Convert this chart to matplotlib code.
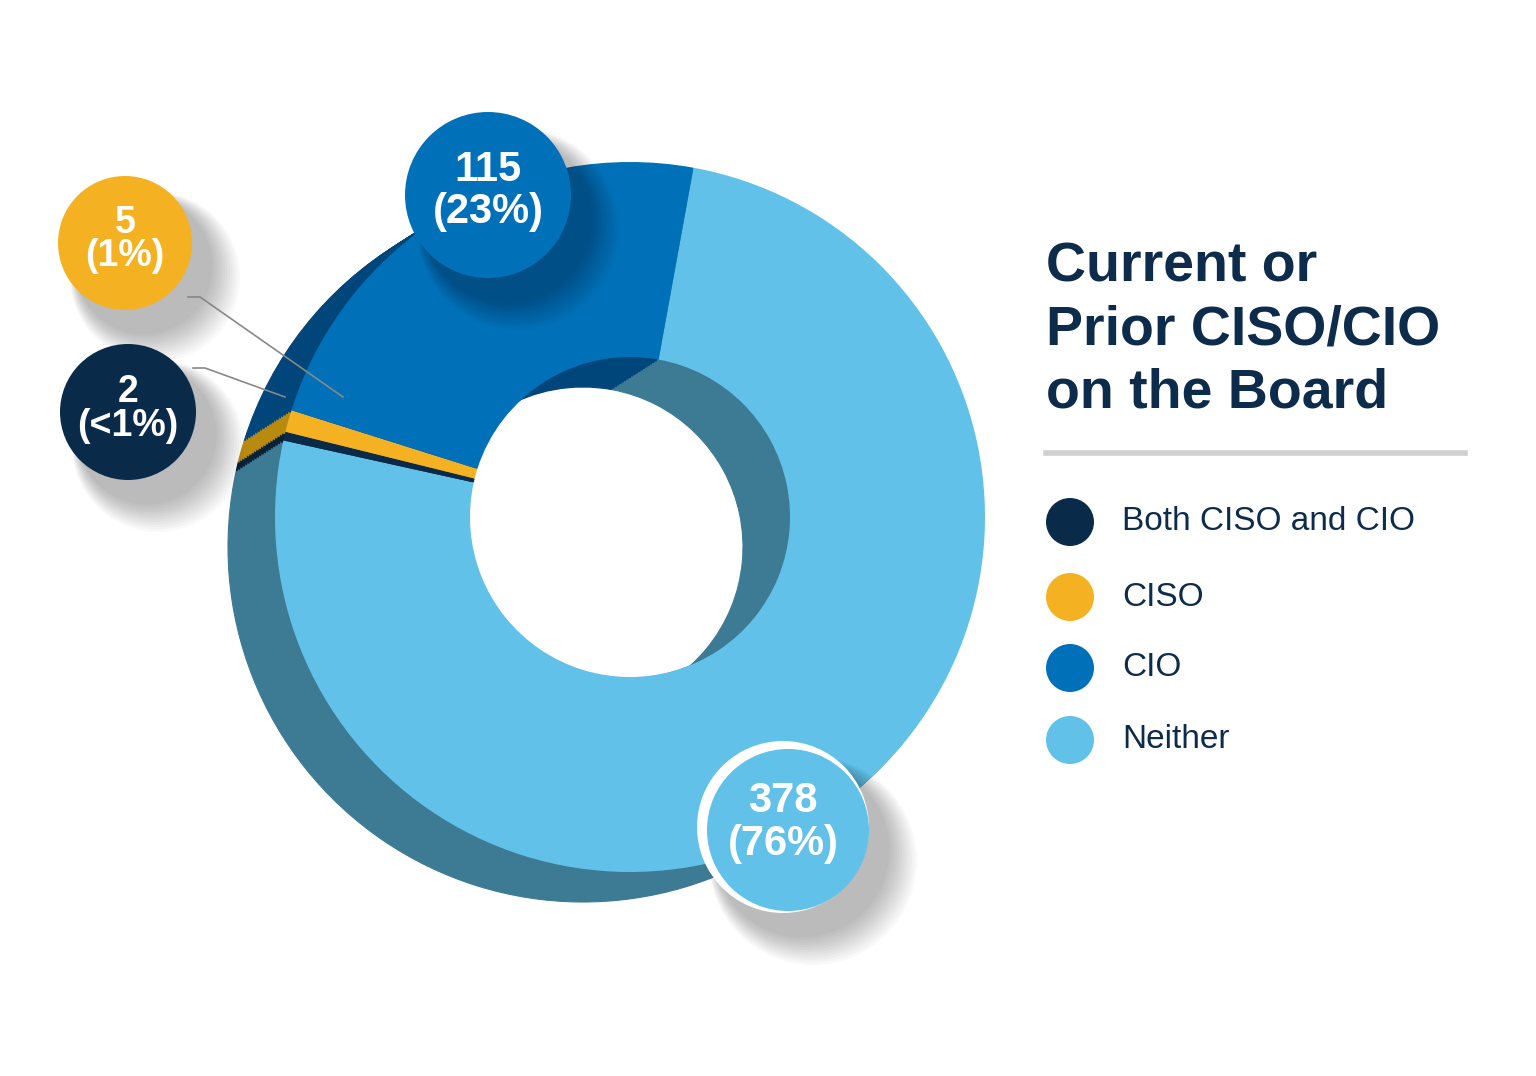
import matplotlib
matplotlib.use("Agg")
import matplotlib.pyplot as plt
from matplotlib.patches import Wedge, Circle
import numpy as np

plt.rcParams['font.family'] = ['Liberation Sans', 'DejaVu Sans']

categories = ["Both CISO and CIO", "CISO", "CIO", "Neither"]
counts = [2, 5, 115, 378]
pct_labels = ["(<1%)", "(1%)", "(23%)", "(76%)"]
top_colors = ["#0a2a4a", "#f4b223", "#0071b9", "#62c1e8"]
side_colors = ["#082038", "#b98a10", "#00467a", "#3d7a94"]

H = 1076
def Y(y): return H - y

fig = plt.figure(figsize=(15.36, 10.76), dpi=100)
ax = fig.add_axes([0, 0, 1, 1])
ax.set_xlim(0, 1536); ax.set_ylim(0, H); ax.set_aspect('equal'); ax.axis('off')

cx, cy = 630, Y(517)
R, width = 355, 195
start = 79.7
# order clockwise from start: Neither, Both, CISO, CIO
order = [3, 0, 1, 2]
total = sum(counts)
angles = []
a = start
for i in order:
    span = counts[i] / total * 360
    angles.append((i, a - span, a))
    a -= span

N = 20
dx, dy = -47, -30
for k in range(N, 0, -1):
    ox = cx + dx * k / N
    oy = cy + dy * k / N
    for i, t1, t2 in angles:
        ax.add_patch(Wedge((ox, oy), R, t1, t2, width=width, color=side_colors[i], lw=0.8, ec=side_colors[i]))
for i, t1, t2 in angles:
    ax.add_patch(Wedge((cx, cy), R, t1, t2, width=width, color=top_colors[i], lw=0))

# leader lines
ax.plot([188, 200, 343], [Y(297), Y(297), Y(397)], color="#888888", lw=1.2)
ax.plot([193, 205, 285], [Y(368), Y(368), Y(397)], color="#888888", lw=1.2)

def bubble(x, y, r, color, num, pct, border=False, fs=30):
    for s in range(12, 0, -1):
        ax.add_patch(Circle((x + 18 + s, Y(y) - 22 - s), r + s * 1.5, color="black", alpha=0.025, lw=0))
    if border:
        ax.add_patch(Circle((x, Y(y)), r, color="white", lw=0))
        ax.add_patch(Circle((x + 5, Y(y) - 3), r - 5, color=color, lw=0))
    else:
        ax.add_patch(Circle((x, Y(y)), r, color=color, lw=0))
    ax.text(x, Y(y) + r * 0.3, num, ha='center', va='center', color='white', fontsize=fs, fontweight='bold')
    ax.text(x, Y(y) - r * 0.2, pct, ha='center', va='center', color='white', fontsize=fs, fontweight='bold')

bubble(488, 195, 83, top_colors[2], str(counts[2]), pct_labels[2])
bubble(125, 243, 67, top_colors[1], str(counts[1]), pct_labels[1], fs=27)
bubble(128, 412, 68, top_colors[0], str(counts[0]), pct_labels[0], fs=27)
bubble(783, 827, 86, top_colors[3], str(counts[3]), pct_labels[3], border=True)

# title
for j, line in enumerate(["Current or", "Prior CISO/CIO", "on the Board"]):
    ax.text(1046, Y(267 + 63 * j), line, ha='left', va='center', fontsize=40, fontweight='bold', color="#0d2b4b")
ax.plot([1046, 1465], [Y(453), Y(453)], color="#d0d0d0", lw=4)

ly = [522, 597, 668, 740]
for j, cat in enumerate(categories):
    ax.add_patch(Circle((1070, Y(ly[j])), 24, color=top_colors[j], lw=0))
    ax.text(1122, Y(ly[j]), cat, ha='left', va='center', fontsize=24, color="#0d2b4b")

fig.savefig("out.png", dpi=100)
